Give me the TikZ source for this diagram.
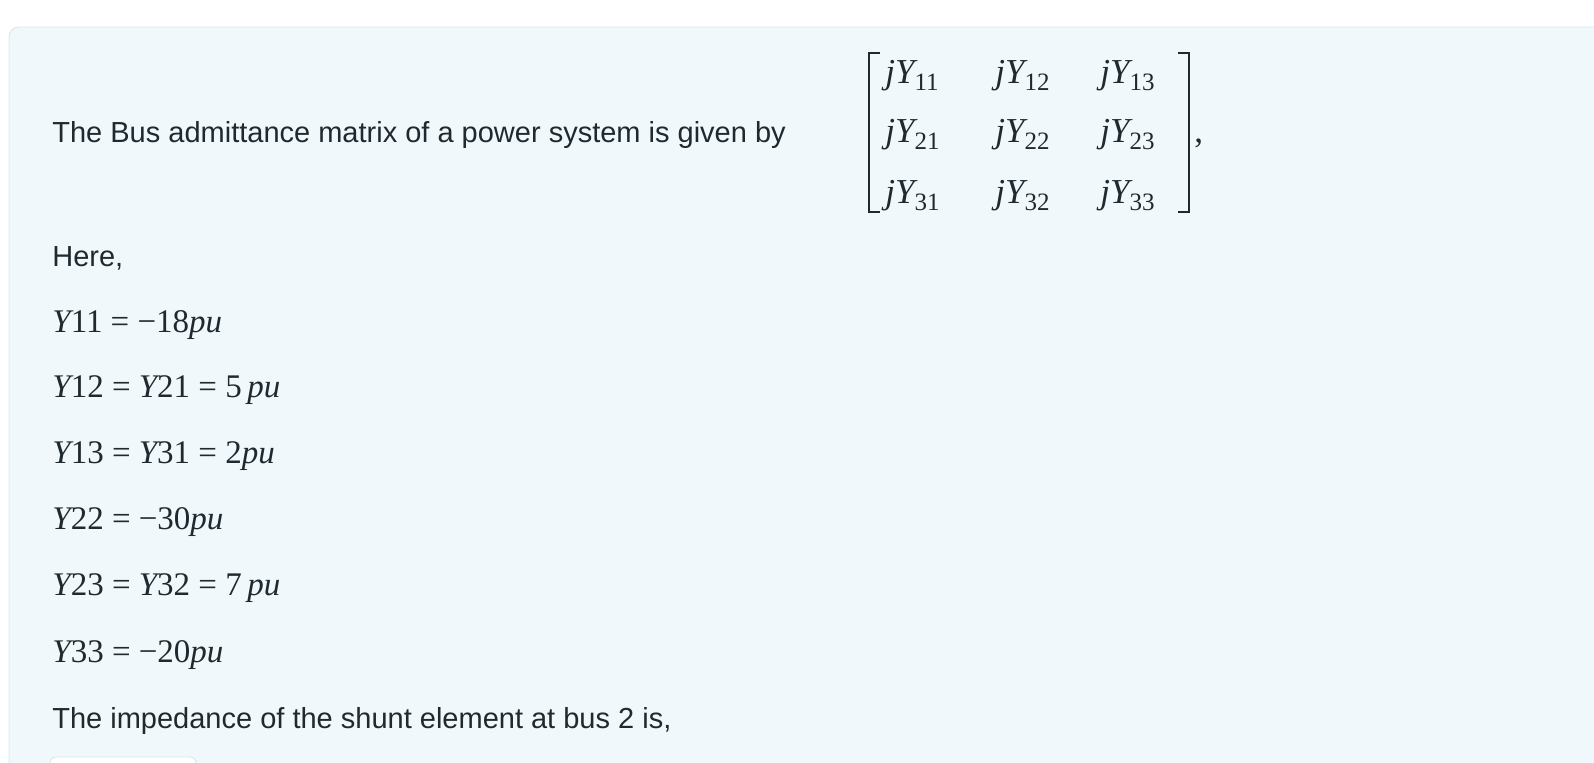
\documentclass[tikz,border=0pt]{standalone}
\usepackage{fontspec}
\setmainfont{Liberation Sans}
\newfontfamily\mser{Liberation Serif}
\definecolor{panel}{HTML}{F1F8FB}
\definecolor{pborder}{HTML}{D5E6EE}
\definecolor{ink}{HTML}{1F2A30}
\newcommand{\vr}[1]{{\mser\itshape #1}}
\newcommand{\vu}[1]{{\mser #1}}
\begin{document}
\begin{tikzpicture}[x=0.5pt,y=-0.5pt,
  txt/.style={anchor=base west,inner sep=0pt,font=\fontsize{14.5}{17}\selectfont,text=ink},
  mth/.style={anchor=base west,inner sep=0pt,font=\fontsize{16.5}{19}\selectfont,text=ink},
  ent/.style={anchor=base west,inner sep=0pt,font=\fontsize{17.5}{20}\selectfont,text=ink}]
\useasboundingbox (0,0) rectangle (1594,762);
\fill[white] (0,0) rectangle (1594,762);
\draw[pborder,fill=panel,rounded corners=5pt] (9,27) rectangle (1640,800);
\draw[pborder,fill=white,rounded corners=3pt] (50,757) rectangle (196,800);
\node[txt] (t1) at (52,142) {The Bus admittance matrix of a power system is given by};
\newcommand{\jy}[1]{\vr{jY}{\fontsize{12.5}{14}\selectfont\raisebox{-0.28em}{\vu{#1}}}}
\foreach \r/\yy in {1/83,2/142,3/203}{
  \foreach \c/\xx in {1/885,2/995,3/1100}{
    \node[ent] (m\r\c) at (\xx,\yy) {\jy{\r\c}};
  }
}
\draw[ink,line width=1.2pt] (880,53) -- (869,53) -- (869,212) -- (880,212);
\draw[ink,line width=1.2pt] (1178,53) -- (1189,53) -- (1189,212) -- (1178,212);
\node[ent] (comma) at (1194,142) {\vu{,}};
\node[txt] (here) at (52,266) {Here,};
\node[mth] (e1) at (52,332) {\vr{Y}\vu{11 = −18}\vr{pu}};
\node[mth] (e2) at (52,397) {\vr{Y}\vu{12 = }\vr{Y}\vu{21 = 5}\,\vr{pu}};
\node[mth] (e3) at (52,463) {\vr{Y}\vu{13 = }\vr{Y}\vu{31 = 2}\vr{pu}};
\node[mth] (e4) at (52,529) {\vr{Y}\vu{22 = −30}\vr{pu}};
\node[mth] (e5) at (52,595) {\vr{Y}\vu{23 = }\vr{Y}\vu{32 = 7}\,\vr{pu}};
\node[mth] (e6) at (52,662) {\vr{Y}\vu{33 = −20}\vr{pu}};
\node[txt] (t2) at (52,728) {The impedance of the shunt element at bus 2 is,};
\end{tikzpicture}
\end{document}
